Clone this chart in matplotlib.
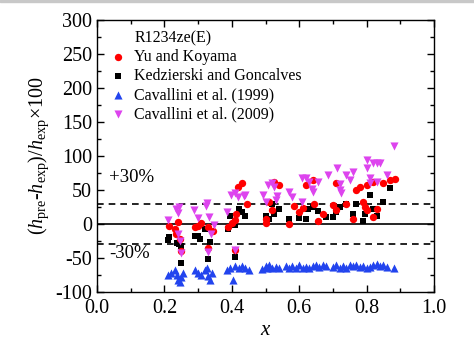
import matplotlib
matplotlib.use("Agg")
import matplotlib.pyplot as plt
from matplotlib.ticker import MultipleLocator
from matplotlib.patches import Rectangle

plt.rcParams['font.family'] = ['Liberation Serif', 'DejaVu Serif']
plt.rcParams['mathtext.fontset'] = 'custom'
plt.rcParams['mathtext.rm'] = 'Liberation Serif'
plt.rcParams['mathtext.it'] = 'Liberation Serif:italic'
plt.rcParams['axes.unicode_minus'] = False

# Yu and Koyama
yu_x = [0.213, 0.23, 0.24, 0.235, 0.245, 0.25, 0.29, 0.30, 0.31, 0.33, 0.345, 0.33, 0.39, 0.40, 0.41, 0.412,
        0.418, 0.43, 0.445, 0.41, 0.50, 0.50, 0.51, 0.52, 0.525, 0.54, 0.57, 0.585, 0.60, 0.61, 0.62, 0.64,
        0.643, 0.657, 0.67, 0.70, 0.71, 0.71, 0.74, 0.76, 0.77, 0.79, 0.795, 0.80, 0.80, 0.82, 0.82, 0.83,
        0.85, 0.87, 0.78, 0.884]
yu_y = [-3, -8, 3, -15, -22, -40, -5, -3, 2, -5, -10, -36, -4, 1, 6, 15,
        55, 60, 29, -38, 1, 8, 32, 20, 62, 57, 0, 27, 17, 23, 58, 64,
        29, 4, 14, 28, 61, 20, 30, 7, 50, 32, 25, 20, 58, 62, 10, 22,
        60, 65, 55, 66]

# Kedzierski and Goncalves
kg_x = [0.21, 0.215, 0.237, 0.243, 0.25, 0.25, 0.29, 0.30, 0.305, 0.32, 0.335, 0.33, 0.39, 0.395, 0.41, 0.41,
        0.42, 0.43, 0.44, 0.50, 0.51, 0.52, 0.525, 0.54, 0.57, 0.60, 0.62, 0.625, 0.64, 0.655, 0.68, 0.70,
        0.71, 0.72, 0.74, 0.76, 0.77, 0.79, 0.795, 0.81, 0.82, 0.83, 0.85, 0.87]
kg_y = [-23, -19, -28, -30, -33, -58, -17, -17, -22, -7, -26, -52, -7, 12, -49, -2,
        22, 18, 12, 12, 7, 29, 14, 22, 7, 9, 7, 22, 25, 19, 10, 10,
        17, 25, 30, 14, 29, 5, 14, 42, 22, 12, 32, 53]

# Cavallini et al. (1999)
c99_x = [0.21, 0.22, 0.23, 0.237, 0.24, 0.245, 0.25, 0.255,
         0.29, 0.30, 0.31, 0.32, 0.325, 0.33, 0.335, 0.34,
         0.385, 0.395, 0.405, 0.41, 0.42, 0.43, 0.44, 0.45,
         0.49, 0.50, 0.505, 0.51, 0.52, 0.53, 0.54, 0.56, 0.57, 0.58, 0.59, 0.60, 0.61, 0.62, 0.63, 0.64,
         0.65, 0.66, 0.67, 0.68, 0.70, 0.71, 0.72, 0.73, 0.74, 0.75, 0.76, 0.77, 0.78, 0.79, 0.80, 0.81,
         0.82, 0.83, 0.84, 0.85, 0.86, 0.88]
c99_y = [-75, -72, -67, -75, -82, -85, -78, -72,
         -67, -72, -75, -67, -64, -76, -82, -72,
         -67, -64, -83, -62, -64, -62, -64, -67,
         -66, -62, -64, -60, -65, -63, -64, -62, -64, -62, -64, -61, -65, -63, -64, -62,
         -61, -63, -60, -62, -63, -61, -65, -62, -64, -61, -62, -60, -63, -62, -65, -63,
         -61, -59, -62, -60, -63, -65]

# Cavallini et al. (2009)
c09_x = [0.212, 0.233, 0.241, 0.244, 0.24, 0.245, 0.248, 0.289, 0.30, 0.324, 0.327, 0.333, 0.339, 0.346, 0.33,
         0.385, 0.398, 0.41, 0.418, 0.435, 0.44, 0.41, 0.494, 0.50, 0.508, 0.52, 0.524, 0.53, 0.535, 0.571,
         0.58, 0.607, 0.607, 0.62, 0.63, 0.637, 0.64, 0.655, 0.686, 0.711, 0.72, 0.72, 0.725, 0.74, 0.75,
         0.76, 0.80, 0.80, 0.81, 0.81, 0.82, 0.83, 0.84, 0.83, 0.86, 0.881]
c09_y = [6, 22, 16, 25, -14, -25, -43, 21, 9, 26, 31, 11, -15, -2, -41,
         17, 43, 45, 39, 41, 43, -38, 42, 32, 57, 60, 54, 35, 41, 47,
         40, 67, 33, 67, 62, 52, 47, 62, 72, 82, 50, 59, 45, 72, 65,
         77, 94, 82, 67, 60, 90, 90, 90, 62, 72, 114]

fig = plt.figure(figsize=(4.74, 3.56), dpi=100)
fig.patches.append(Rectangle((0, 0.993), 1, 0.007, transform=fig.transFigure,
                             color='#c8c8c8', zorder=0))
ax = fig.add_axes([97/474, 1-292/356, 337/474, 272/356])

ax.axhline(0, color='black', lw=1.2, zorder=1)
ax.axhline(30, color='black', lw=1.2, ls=(0, (4, 3)), zorder=1)
ax.axhline(-30, color='black', lw=1.2, ls=(0, (4, 3)), zorder=1)

ax.scatter(kg_x, kg_y, marker='s', s=20, color='black', lw=0, zorder=3, label='Kedzierski and Goncalves')
ax.scatter(c99_x, c99_y, marker='^', s=34, color='#2244ee', lw=0, zorder=3, label='Cavallini et al. (1999)')
ax.scatter(yu_x, yu_y, marker='o', s=28, color='#ff0000', lw=0, zorder=4, label='Yu and Koyama')
ax.scatter(c09_x, c09_y, marker='v', s=34, color='#dd44ee', lw=0, zorder=5, label='Cavallini et al. (2009)')

ax.set_xlim(0, 1.0)
ax.set_ylim(-100, 300)
ax.xaxis.set_minor_locator(MultipleLocator(0.1))
ax.yaxis.set_major_locator(MultipleLocator(50))
ax.yaxis.set_minor_locator(MultipleLocator(25))
ax.set_xticks([0, 0.2, 0.4, 0.6, 0.8, 1.0])
ax.set_xticklabels(['0.0', '0.2', '0.4', '0.6', '0.8', '1.0'])
ax.tick_params(which='both', direction='in', top=True, right=True, labelsize=14.5)
ax.tick_params(which='major', length=5, width=1)
ax.tick_params(which='minor', length=3, width=1)
ax.tick_params(axis='x', which='major', pad=5)
for sp in ax.spines.values():
    sp.set_linewidth(1)

ax.set_xlabel('$x$', fontsize=15, labelpad=2)
ax.set_ylabel(r'$(h_{\mathrm{pre}}$-$h_{\mathrm{exp}})/h_{\mathrm{exp}}$×100', fontsize=14.5, labelpad=3)

ax.text(0.035, 69, '+30%', fontsize=13.5, va='center', ha='left')
ax.text(0.035, -43, '-30%', fontsize=13.5, va='center', ha='left')

ax.text(0.113, 1-(38-20)/272, 'R1234ze(E)', transform=ax.transAxes, fontsize=11.5, va='center', ha='left')
handles, labels = ax.get_legend_handles_labels()
order = [2, 0, 1, 3]
leg = ax.legend([handles[i] for i in order], [labels[i] for i in order],
                loc='upper left', bbox_to_anchor=(0.04, 1-(49-20)/272), frameon=False,
                fontsize=11.5, handlelength=1.0, handletextpad=0.45, labelspacing=0.2,
                borderpad=0, borderaxespad=0, scatterpoints=1)

fig.savefig('out.png', dpi=100)
